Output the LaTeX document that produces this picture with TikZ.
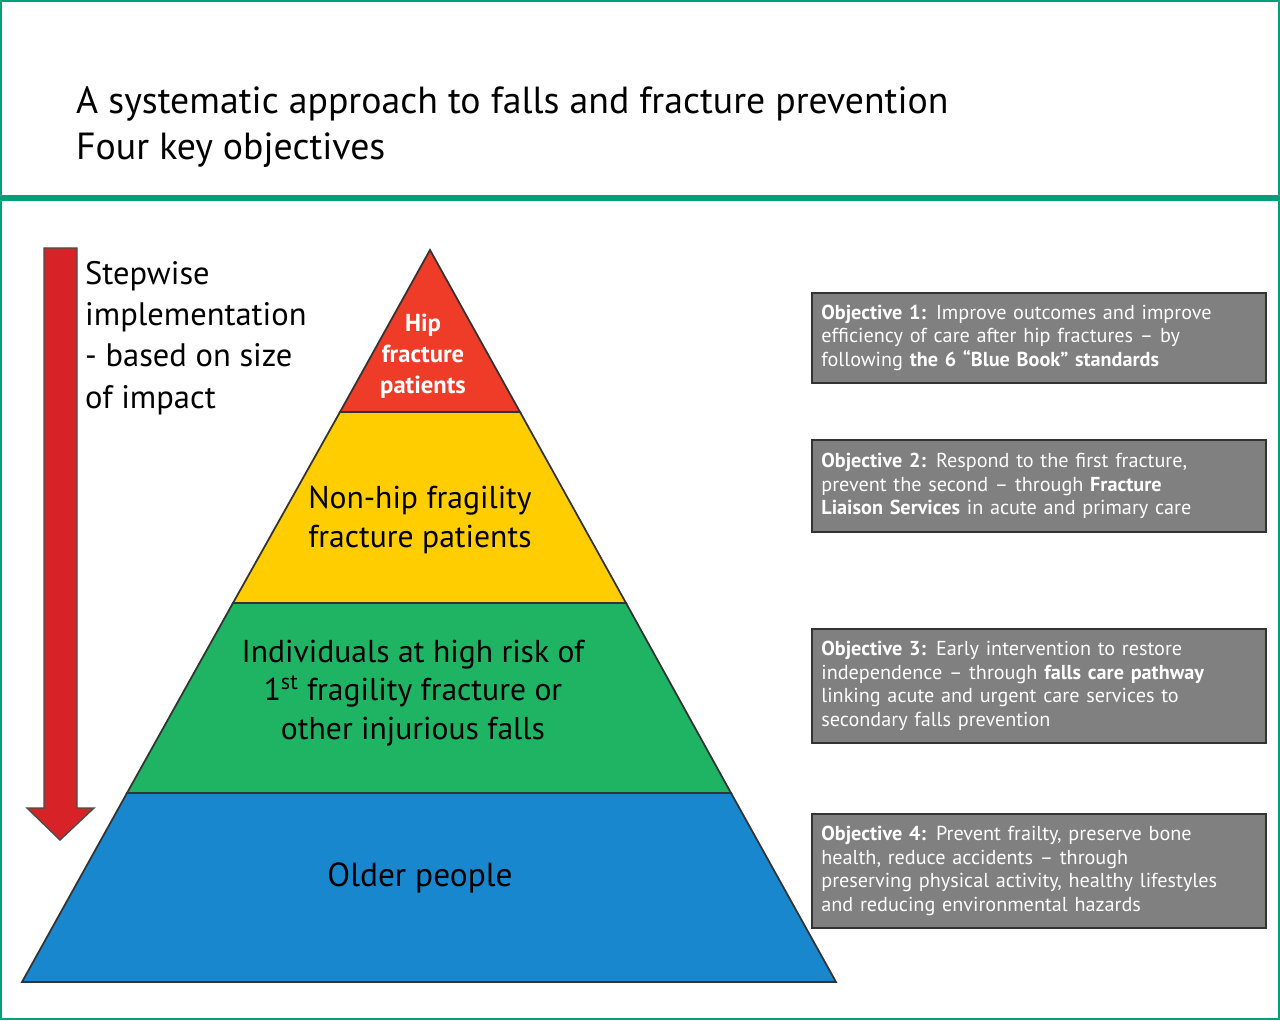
\documentclass[tikz,border=0pt]{standalone}
\usepackage{fontspec}
\setmainfont{PT Sans}
\definecolor{frame}{RGB}{0,160,120}
\definecolor{tipred}{RGB}{238,60,40}
\definecolor{layyellow}{RGB}{255,205,0}
\definecolor{laygreen}{RGB}{30,180,100}
\definecolor{layblue}{RGB}{25,135,205}
\definecolor{arrowred}{RGB}{215,35,40}
\definecolor{boxgray}{RGB}{128,128,128}
\begin{document}
\begin{tikzpicture}[x=0.02cm, y=-0.02cm,
  layer/.style={draw=black!80, line width=1pt},
  objbox/.style={draw=black!80, fill=boxgray, line width=1pt, text=white, anchor=north west,
    minimum width=9.08cm, align=left, text width=8.7cm,
    font=\fontsize{11.5}{13.5}\selectfont, inner xsep=0.19cm},
  laytext/.style={align=center, font=\fontsize{18}{22}\selectfont}]

\useasboundingbox (0,0) rectangle (1280,1020);
\draw [frame, line width=1.2pt] (1,1) rectangle (1279,1019);
\draw [frame, line width=3pt] (1,198) -- (1279,198);

% title
\node [anchor=west, align=left, font=\fontsize{21.5}{26.5}\selectfont] (title) at (70,127)
  {A systematic approach to falls and fracture prevention\\Four key objectives};

% stepwise arrow
\draw [fill=arrowred, draw=black!70, line width=0.8pt]
  (44,248) -- (77,248) -- (77,808) -- (94,808) -- (60,840) -- (27,808) -- (44,808) -- cycle;
\node [anchor=north west, align=left, font=\fontsize{18.5}{23.5}\selectfont] (step) at (79,255)
  {Stepwise\\implementation\\- based on size\\of impact};

% pyramid layers
\coordinate (apex) at (430,250);
\draw [layer, fill=tipred] (apex) -- (520,412) -- (340,412) -- cycle;
\draw [layer, fill=layyellow] (340,412) -- (520,412) -- (626,603) -- (233,603) -- cycle;
\draw [layer, fill=laygreen] (233,603) -- (626,603) -- (731,793) -- (127,793) -- cycle;
\draw [layer, fill=layblue] (127,793) -- (731,793) -- (836,982) -- (22,982) -- cycle;

\node [laytext, text=white, font=\bfseries\fontsize{14}{17.5}\selectfont] (hip) at (423,356) {Hip\\fracture\\patients};
\node [laytext] (nonhip) at (420,520) {Non-hip fragility\\fracture patients};
\node [laytext] (risk) at (413,693) {Individuals at high risk of\\1\textsuperscript{st} fragility fracture or\\other injurious falls};
\node [laytext, font=\fontsize{19}{22}\selectfont] (older) at (420,878) {Older people};

% objectives
\node [objbox, minimum height=1.8cm] (obj1) at (811,292)
  {\textbf{Objective 1:} Improve outcomes and improve\\efficiency of care after hip fractures -- by\\following \textbf{the 6 ``Blue Book'' standards}};
\node [objbox, minimum height=1.84cm] (obj2) at (811,439)
  {\textbf{Objective 2:} Respond to the first fracture,\\prevent the second -- through \textbf{Fracture}\\\textbf{Liaison Services} in acute and primary care};
\node [objbox, minimum height=2.28cm] (obj3) at (811,628)
  {\textbf{Objective 3:} Early intervention to restore\\independence -- through \textbf{falls care pathway}\\linking acute and urgent care services to\\secondary falls prevention};
\node [objbox, minimum height=2.28cm] (obj4) at (811,813)
  {\textbf{Objective 4:} Prevent frailty, preserve bone\\health, reduce accidents -- through\\preserving physical activity, healthy lifestyles\\and reducing environmental hazards};
\end{tikzpicture}
\end{document}
